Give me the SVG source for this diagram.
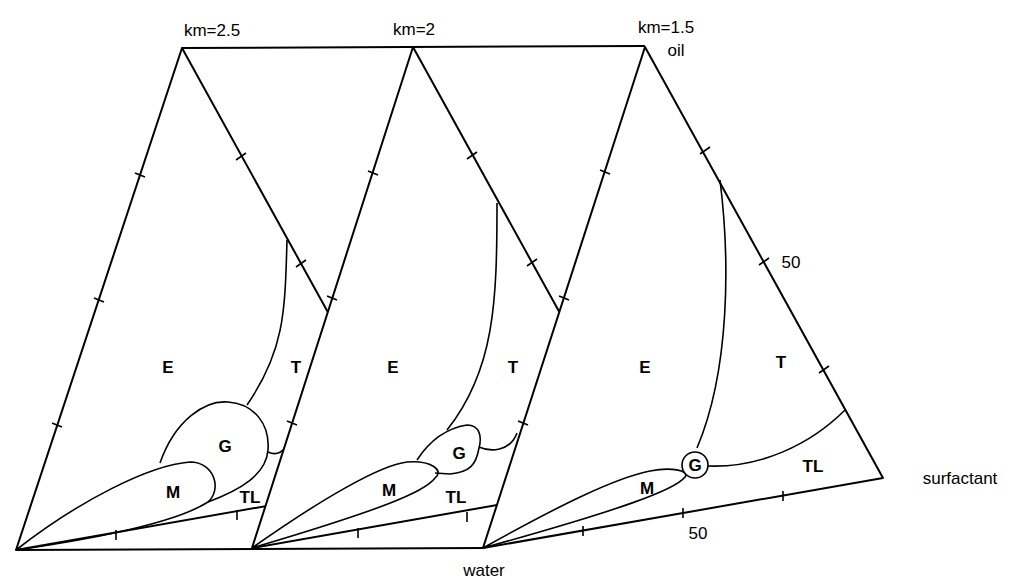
<svg xmlns="http://www.w3.org/2000/svg" width="1016" height="579" viewBox="0 0 1016 579">
<style>
.e{fill:none;stroke:#000;stroke-width:2}
.t{fill:#fff;stroke:#000;stroke-width:2;stroke-linejoin:round}
.c{fill:none;stroke:#000;stroke-width:1.6}
.cw{fill:#fff;stroke:#000;stroke-width:1.6}
.k{stroke:#000;stroke-width:1.6}
.r{font-family:"Liberation Sans",Arial,sans-serif;font-weight:bold;font-size:17px;text-anchor:middle}
.l{font-family:"Liberation Sans",Arial,sans-serif;font-size:17px;text-anchor:middle}
</style>
<rect width="1016" height="579" fill="#fff"/>
<g id="tri1">
<polygon class="t" points="182,48 16,550 420,479"/>
<g class="k">
<line x1="52" y1="423" x2="62" y2="427"/><line x1="94" y1="298" x2="104" y2="302"/><line x1="135" y1="173" x2="145" y2="177"/>
<line x1="236" y1="160" x2="246" y2="153"/><line x1="296" y1="267" x2="306" y2="260"/>
<line x1="116" y1="530" x2="116" y2="540"/><line x1="237" y1="510" x2="237" y2="520"/>
</g>
<path class="c" d="M287,240 C285,310 285,350 247,405"/>
<path class="c" d="M160,463 C175,420 205,400 228,402 C255,404 270,425 268,450 C266,475 240,490 208,502"/>
<path class="c" d="M268,452 C276,456 282,452 286,447"/>
<path class="c" d="M16,550 C80,500 150,465 190,462 C215,462 222,490 208,502 C180,520 120,535 16,550"/>
<text class="r" x="168" y="373">E</text><text class="r" x="296" y="373">T</text><text class="r" x="225" y="452">G</text><text class="r" x="173" y="498">M</text><text class="r" x="250" y="503">TL</text>
</g>
<g id="tri2">
<polygon class="t" points="413,47 252,548 651,478"/>
<g class="k">
<line x1="287" y1="421" x2="297" y2="425"/><line x1="327" y1="296" x2="337" y2="300"/><line x1="368" y1="171" x2="378" y2="175"/>
<line x1="467" y1="159" x2="477" y2="152"/><line x1="527" y1="266" x2="537" y2="259"/>
<line x1="358" y1="528" x2="358" y2="538"/><line x1="467" y1="512" x2="467" y2="522"/>
</g>
<path class="c" d="M497,203 C497,300 495,370 447,430"/>
<path class="c" d="M417,460 C430,440 448,428 467,425 C480,425 482,437 479,448 C476,465 470,472 450,474 L435,473"/>
<path class="c" d="M479,447 C490,452 510,452 517,433"/>
<path class="c" d="M252,548 C320,500 380,465 407,462 C430,460 445,470 435,478 C425,492 380,510 252,548"/>
<text class="r" x="393" y="373">E</text><text class="r" x="513" y="373">T</text><text class="r" x="459" y="459">G</text><text class="r" x="389" y="496">M</text><text class="r" x="456" y="503">TL</text>
</g>
<g id="tri3">
<polygon class="t" points="645,47 483,548 883,478"/>
<g class="k">
<line x1="518" y1="421" x2="528" y2="425"/><line x1="559" y1="296" x2="569" y2="300"/><line x1="600" y1="170" x2="610" y2="174"/>
<line x1="700" y1="154" x2="710" y2="147"/><line x1="759" y1="265" x2="769" y2="258"/><line x1="819" y1="373" x2="829" y2="366"/>
<line x1="583" y1="526" x2="583" y2="536"/><line x1="683" y1="508" x2="683" y2="518"/><line x1="783" y1="491" x2="783" y2="501"/>
</g>
<path class="c" d="M720,180 C730,260 730,370 697,448"/>
<path class="c" d="M708,466 C760,468 810,445 845,410"/>
<path class="c" d="M483,548 C560,505 615,478 650,471 C670,467 690,470 685,477 C675,490 620,510 483,548"/>
<circle class="cw" cx="695" cy="465" r="13"/>
<text class="r" x="645" y="373">E</text><text class="r" x="781" y="368">T</text><text class="r" x="695" y="471">G</text><text class="r" x="647" y="494">M</text><text class="r" x="813" y="472">TL</text>
</g>
<g id="frame">
<line class="e" x1="182" y1="48" x2="645" y2="46"/>
<line class="e" x1="16" y1="550" x2="483" y2="548"/>
</g>
<g id="labels">
<text class="l" x="212" y="36">km=2.5</text>
<text class="l" x="414" y="35">km=2</text>
<text class="l" x="666" y="33">km=1.5</text>
<text class="l" x="676" y="56">oil</text>
<text class="l" x="791" y="268">50</text>
<text class="l" x="698" y="539">50</text>
<text class="l" x="484" y="576">water</text>
<text class="l" x="960" y="484">surfactant</text>
</g>
</svg>
